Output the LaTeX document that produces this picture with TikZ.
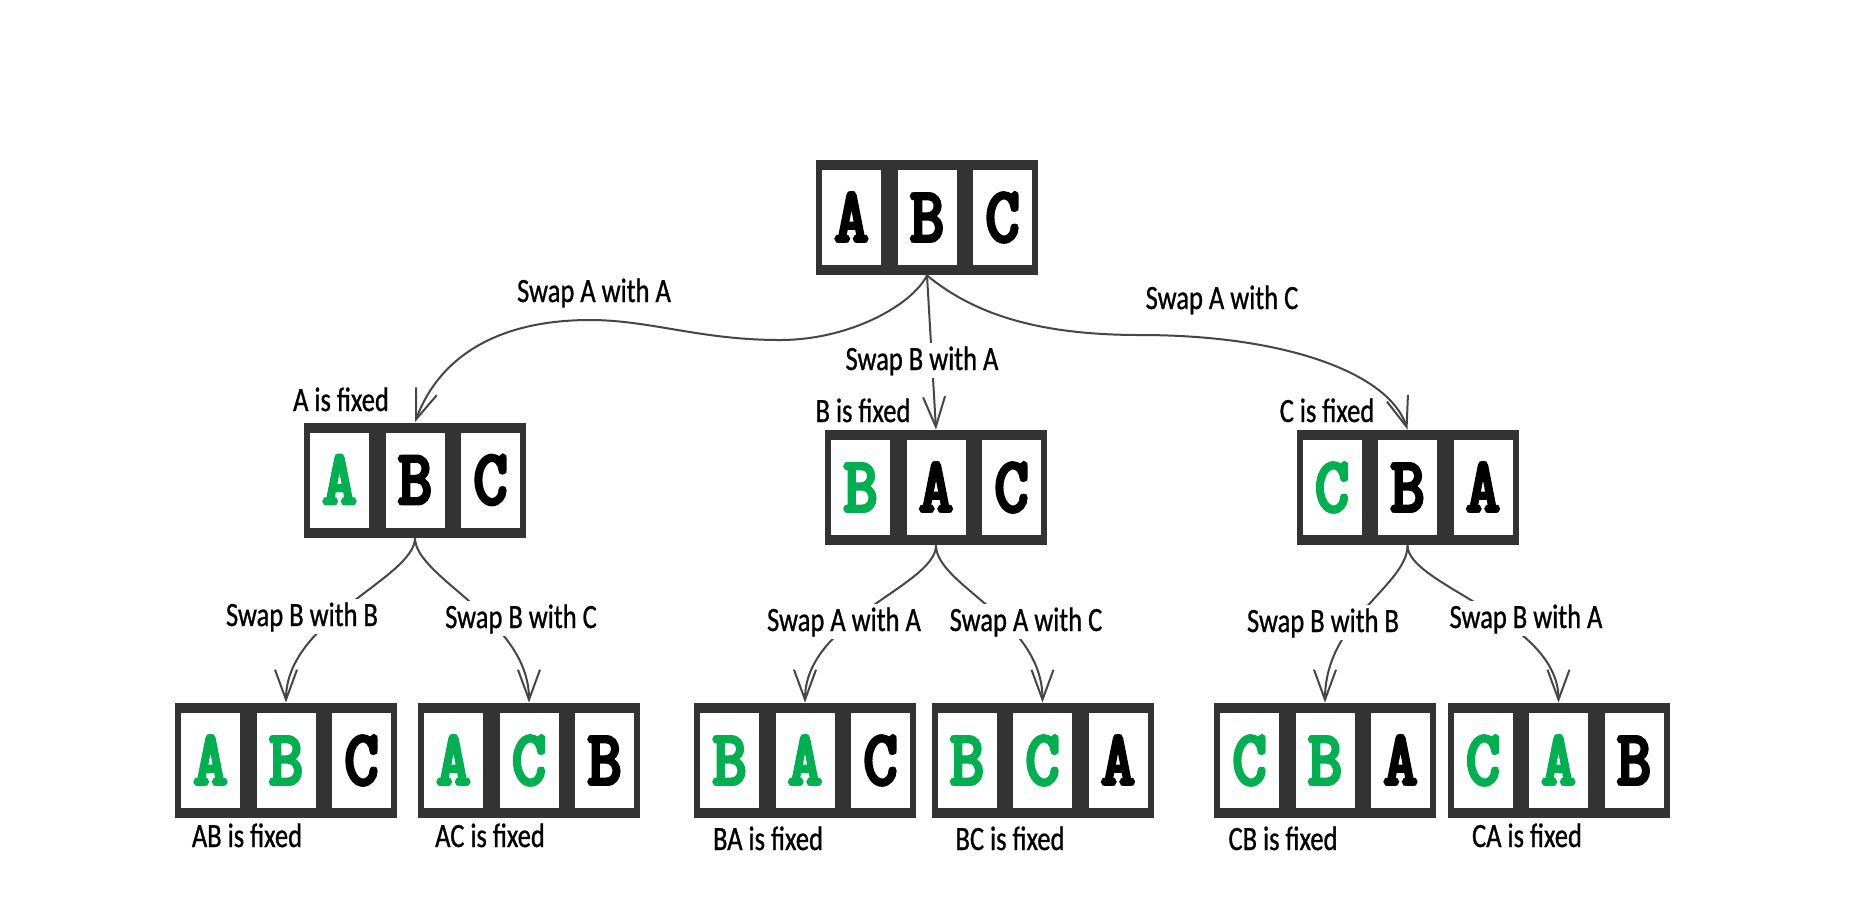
\documentclass[tikz,border=0pt]{standalone}
\usepackage{fontspec}
\usetikzlibrary{arrows.meta,calc}
\newfontfamily\lblfont[FakeStretch=0.78,FakeBold=0.8]{Carlito}
\newfontfamily\boxfont[FakeStretch=0.85,FakeBold=5]{Latin Modern Mono}
\definecolor{boxgray}{RGB}{51,51,51}
\definecolor{fixgreen}{RGB}{0,176,80}
\definecolor{linegray}{RGB}{70,70,70}
\tikzset{
  framebox/.style={rectangle, fill=boxgray, draw=none, inner sep=0pt, minimum width=111pt, minimum height=57.5pt},
  cellbox/.style={rectangle, fill=white, draw=none, inner sep=0pt, minimum width=29.5pt, minimum height=47.5pt},
  letter/.style={anchor=base, inner sep=0pt, font=\boxfont\fontsize{38.5}{40}\selectfont},
  lbl/.style={anchor=base, fill=white, inner sep=1.5pt, font=\lblfont\fontsize{17}{20}\selectfont},
  conn/.style={draw=linegray, line width=1pt, -{Straight Barb[length=15pt,width=11pt]}},
}
\newcommand{\tribox}[8]{%
  \node[framebox] (#1) at (#2) {};
  \node[cellbox] (#1c1) at ($(#1.center)+(-75.5,0)$) {};
  \node[cellbox] (#1c2) at (#1.center) {};
  \node[cellbox] (#1c3) at ($(#1.center)+(75.5,0)$) {};
  \node[letter,text=#4] (#1t1) at ($(#1c1.center)+(0,23.5)$) {#3};
  \node[letter,text=#6] (#1t2) at ($(#1c2.center)+(0,23.5)$) {#5};
  \node[letter,text=#8] (#1t3) at ($(#1c3.center)+(0,23.5)$) {#7};
}
\begin{document}
\begin{tikzpicture}[x=0.5pt,y=-0.5pt]
\fill[white] (0,0) rectangle (1874,918);
\useasboundingbox (0,0) rectangle (1874,918);

% boxes
\tribox{root}{927,217.5}{A}{black}{B}{black}{C}{black}
\tribox{L1}{415,480}{A}{fixgreen}{B}{black}{C}{black}
\tribox{M1}{936,487.5}{B}{fixgreen}{A}{black}{C}{black}
\tribox{R1}{1407.5,487.5}{C}{fixgreen}{B}{black}{A}{black}
\tribox{LL}{286,760.5}{A}{fixgreen}{B}{fixgreen}{C}{black}
\tribox{LR}{529,760.5}{A}{fixgreen}{C}{fixgreen}{B}{black}
\tribox{ML}{805,760.5}{B}{fixgreen}{A}{fixgreen}{C}{black}
\tribox{MR}{1042.5,760.5}{B}{fixgreen}{C}{fixgreen}{A}{black}
\tribox{RL}{1325,760.5}{C}{fixgreen}{B}{fixgreen}{A}{black}
\tribox{RR}{1558.5,760.5}{C}{fixgreen}{A}{fixgreen}{B}{black}

% connectors from root
\draw[conn] (root.south) .. controls (912,305) and (850,340) .. (780,340)
  .. controls (700,340) and (650,320) .. (590,320)
  .. controls (500,320) and (440,355) .. (L1.north);
\draw[conn] (root.south) -- (M1.north);
\draw[conn] (root.south) .. controls (975,315) and (1040,335) .. (1140,335)
  .. controls (1290,335) and (1390,375) .. (R1.north);

% connectors to bottom row
\foreach \p/\c in {L1/LL, L1/LR, M1/ML, M1/MR, R1/RL, R1/RR}{
  \draw[conn] (\p.south) .. controls ($(\p.south)+(0,40)$) and ($(\c.north)+(0,-83)$) .. (\c.north);
}

% labels
\node[lbl] (t1) at (594,302) {Swap A with A};
\node[lbl] (t2) at (922,370) {Swap B with A};
\node[lbl] (t3) at (1222,309) {Swap A with C};
\node[lbl] (f1) at (341,411) {A is fixed};
\node[lbl] (f2) at (863,422) {B is fixed};
\node[lbl] (f3) at (1327,422) {C is fixed};
\node[lbl] (s1) at (302,626) {Swap B with B};
\node[lbl] (s2) at (521,628) {Swap B with C};
\node[lbl] (s3) at (844,631) {Swap A with A};
\node[lbl] (s4) at (1026,631) {Swap A with C};
\node[lbl] (s5) at (1323,632) {Swap B with B};
\node[lbl] (s6) at (1526,628) {Swap B with A};
\node[lbl] (g1) at (247,847) {AB is fixed};
\node[lbl] (g2) at (490,847) {AC is fixed};
\node[lbl] (g3) at (768,850) {BA is fixed};
\node[lbl] (g4) at (1010,850) {BC is fixed};
\node[lbl] (g5) at (1283,850) {CB is fixed};
\node[lbl] (g6) at (1527,847) {CA is fixed};
\end{tikzpicture}
\end{document}
